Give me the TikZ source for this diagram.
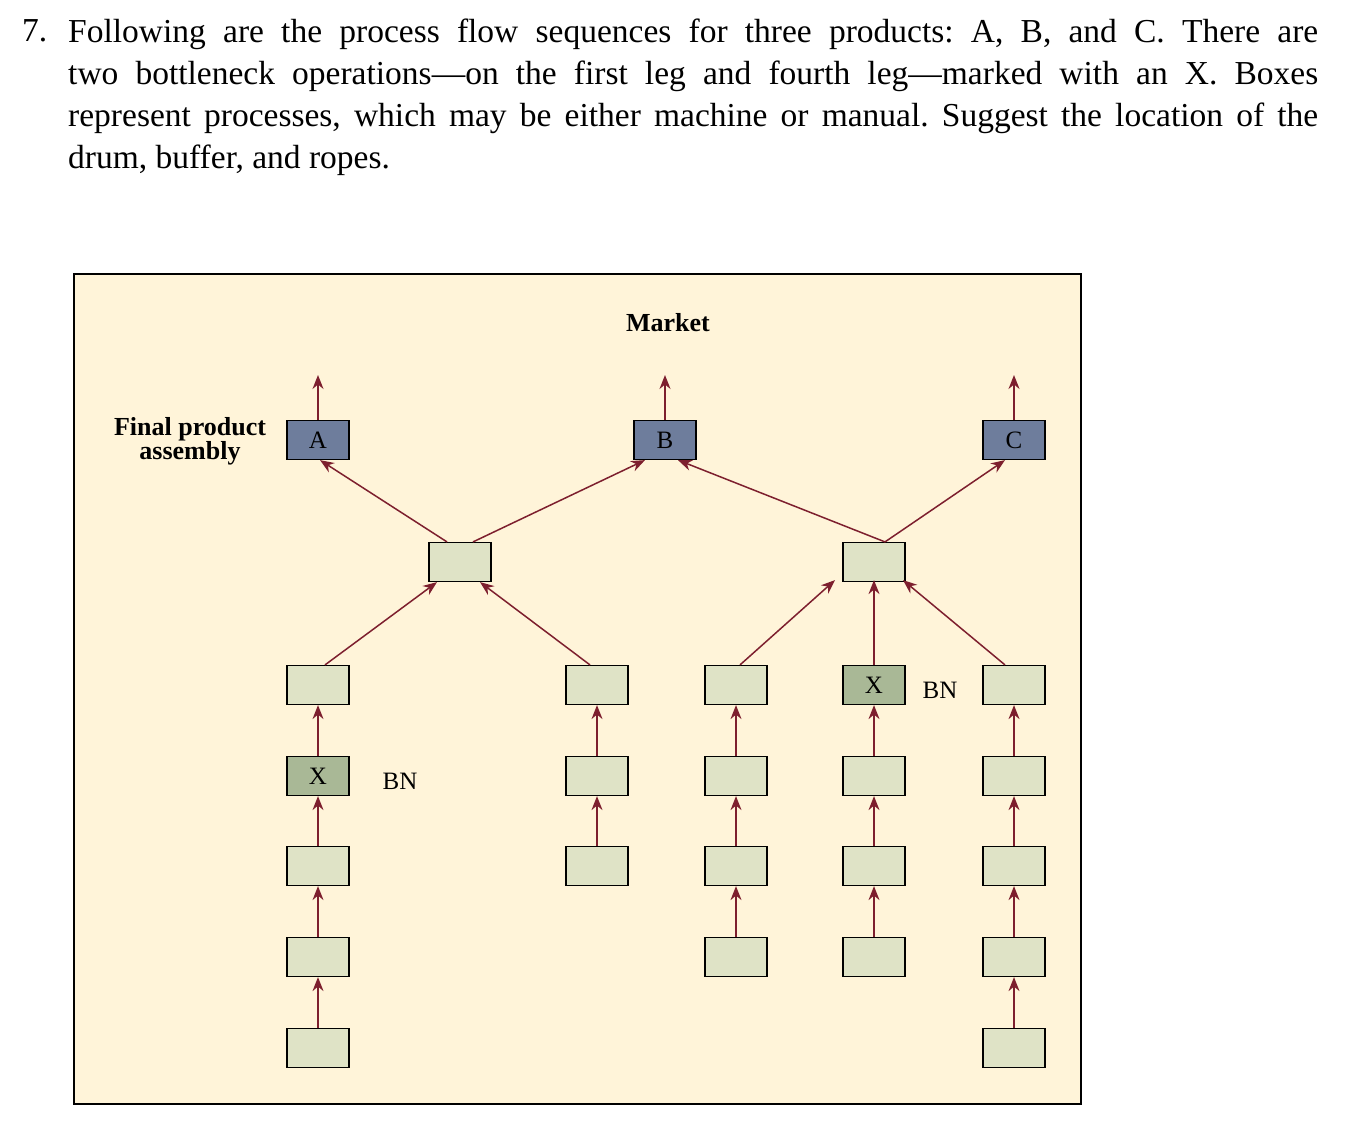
\documentclass[tikz,border=0pt]{standalone}
\usepackage{fontspec}
\setmainfont{Liberation Serif}
\usetikzlibrary{arrows.meta}
\frenchspacing
\definecolor{bg}{HTML}{FFF4D9}
\definecolor{boxg}{HTML}{DFE3C6}
\definecolor{boxx}{HTML}{A9B896}
\definecolor{boxf}{HTML}{6E7D9C}
\definecolor{arr}{HTML}{7D1F2E}
\begin{document}
\begin{tikzpicture}[x=1pt,y=-1pt,
  bx/.style={draw=black,line width=1.2pt,fill=boxg,minimum width=62pt,minimum height=39pt,inner sep=0pt,font=\fontsize{25}{25}\selectfont},
  bxx/.style={bx,fill=boxx},
  bxf/.style={bx,fill=boxf},
  ar/.style={draw=arr,line width=1.5pt,-{Stealth[length=14pt,width=11pt]}},
  lab/.style={font=\fontsize{25}{28}\selectfont},
  blab/.style={font=\bfseries\fontsize{26}{28}\selectfont}]
\useasboundingbox (0,0) rectangle (1360,1144);
\node[anchor=north west,inner sep=0pt,font=\fontsize{33.5}{42}\selectfont] (num) at (22,19) {7.};
\node[anchor=north west,inner sep=0pt,text width=1250pt,align=justify,font=\fontsize{33.5}{42}\selectfont] (para) at (68,19) {Following are the process flow sequences for three products: A, B, and C. There are\linebreak two bottleneck operations---on the first leg and fourth leg---marked with an X. Boxes\linebreak represent processes, which may be either machine or manual. Suggest the location of the\linebreak drum, buffer, and ropes.};
\draw[line width=1.2pt,fill=bg] (74,274) rectangle (1081,1104);
\node[blab] (mkt) at (668,323) {Market};
\node[blab,align=center] (fpa) at (190,441) {Final product\\[-4pt]assembly};
\node[bxf] (A) at (318,440) {A};
\node[bxf] (B) at (665,440) {B};
\node[bxf] (C) at (1014,440) {C};
\coordinate (tA) at (318,375); \coordinate (tB) at (665,375); \coordinate (tC) at (1014,375);
\draw[ar] (A.north) -- (tA);
\draw[ar] (B.north) -- (tB);
\draw[ar] (C.north) -- (tC);
\node[bx] (m1) at (460,562) {};
\node[bx] (m2) at (874,562) {};
\foreach \n/\x/\ys in {1/318/{685,776,866,957,1048},2/597/{685,776,866},3/736/{685,776,866,957},4/874/{685,776,866,957},5/1014/{685,776,866,957,1048}}{
  \foreach \y [count=\i] in \ys { \node[bx] (c\n r\i) at (\x,\y) {}; }
}
\node[bxx] at (c1r2) {X};
\node[bxx] at (c4r1) {X};
\node[lab] (bn1) at (400,781) {BN};
\node[lab] (bn2) at (940,690) {BN};
\foreach \n/\k in {1/5,2/3,3/4,4/4,5/5}{
  \foreach \i in {2,...,\k}{
    \pgfmathtruncatemacro\j{\i-1}
    \draw[ar] (c\n r\i.north) -- (c\n r\j.south);
  }
}
\draw[ar] ([xshift=7pt]c1r1.north) -- ([xshift=-23pt]m1.south);
\draw[ar] ([xshift=-7pt]c2r1.north) -- ([xshift=20pt]m1.south);
\draw[ar] ([xshift=-13pt]m1.north) -- ([xshift=2pt]A.south);
\draw[ar] ([xshift=13pt]m1.north) -- ([xshift=-20pt]B.south);
\draw[ar] ([xshift=4pt]c3r1.north) -- ([xshift=-39pt,yshift=2pt]m2.south);
\draw[ar] (c4r1.north) -- ([yshift=2pt]m2.south);
\draw[ar] ([xshift=-9pt]c5r1.north) -- ([xshift=29pt,yshift=2pt]m2.south);
\draw[ar] ([xshift=11pt]m2.north) -- ([xshift=13pt]B.south);
\draw[ar] ([xshift=11pt]m2.north) -- ([xshift=-9pt]C.south);
\end{tikzpicture}
\end{document}
